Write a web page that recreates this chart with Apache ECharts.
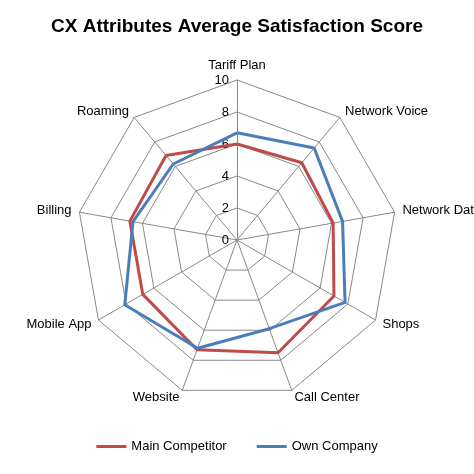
<!DOCTYPE html>
<html>
<head>
<meta charset="utf-8">
<script src="https://cdn.jsdelivr.net/npm/echarts@6/dist/echarts.min.js"></script>
<style>
  html, body { margin: 0; padding: 0; background: #fff; }
  #chart { width: 474px; height: 474px; }
</style>
</head>
<body>
<div id="chart"></div>
<script>
// indicators listed counterclockwise from the top (ECharts radar order)
const attributes = ['Tariff Plan', 'Roaming', 'Billing', 'Mobile App', 'Website', 'Call Center', 'Shops', 'Network Data', 'Network Voice'];
const mainCompetitor = [6.0, 6.9, 6.8, 6.8, 7.3, 7.5, 7.0, 6.1, 6.3];
const ownCompany = [6.7, 6.2, 6.6, 8.1, 7.2, 5.9, 7.8, 6.7, 7.5];
const scaleMax = 10;

const chart = echarts.init(document.getElementById('chart'));
const font = 'Liberation Sans, Arial, sans-serif';

chart.setOption({
  animation: false,
  title: {
    text: 'CX Attributes Average Satisfaction Score',
    left: 'center',
    top: 12,
    textStyle: { fontFamily: font, fontSize: 19, fontWeight: 'bold', color: '#000' }
  },
  legend: {
    bottom: 16,
    itemWidth: 30,
    itemHeight: 3,
    itemGap: 30,
    icon: 'rect',
    textStyle: { fontFamily: font, fontSize: 13, color: '#000' },
    data: ['Main Competitor', 'Own Company']
  },
  radar: {
    center: [237, 240],
    radius: 160,
    startAngle: 90,
    shape: 'polygon',
    splitNumber: 5,
    indicator: attributes.map((name) => ({ name, min: 0, max: scaleMax })),
    axisName: { color: '#000', fontFamily: font, fontSize: 13 },
    nameGap: 8,
    splitArea: { show: false },
    splitLine: { lineStyle: { color: '#888', width: 1 } },
    axisLine: { lineStyle: { color: '#888', width: 1 } }
  },
  polar: { center: [237, 240], radius: 160 },
  angleAxis: { show: false, startAngle: 90, min: 0, max: 360 },
  radiusAxis: {
    min: 0, max: scaleMax, interval: 2,
    axisLine: { show: false }, axisTick: { show: false }, splitLine: { show: false },
    axisLabel: { color: '#000', fontFamily: font, fontSize: 13, margin: 8, align: 'right', verticalAlign: 'middle' }
  },
  series: [{
    type: 'radar',
    symbol: 'none',
    data: [
      { name: 'Main Competitor', value: mainCompetitor, lineStyle: { color: '#BE4B48', width: 3 }, itemStyle: { color: '#BE4B48' } },
      { name: 'Own Company', value: ownCompany, lineStyle: { color: '#4A7EBB', width: 3 }, itemStyle: { color: '#4A7EBB' } }
    ]
  }]
});
</script>
</body>
</html>
